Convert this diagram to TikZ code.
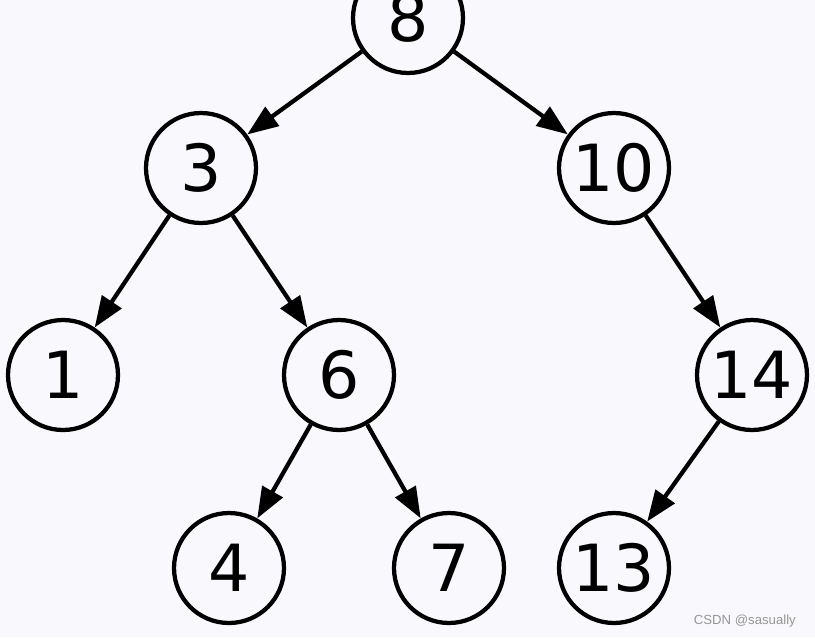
\documentclass[tikz,border=0pt]{standalone}
\usepackage{fontspec}
\setmainfont{DejaVu Sans}
\newfontfamily\markfont{Liberation Sans}
\usetikzlibrary{arrows.meta}
\definecolor{PaperBg}{RGB}{249,248,252}
\definecolor{MarkGray}{RGB}{150,150,150}
\tikzset{
  keynode/.style={circle,draw=black,line width=0.085cm,fill=none,
    minimum size=2.2cm,inner sep=0pt,font=\fontsize{37}{40}\selectfont},
  treeedge/.style={-{Triangle[length=0.62cm,width=0.46cm]},line width=0.085cm,draw=black}
}

\begin{document}
\begin{tikzpicture}[x=0.02cm,y=-0.02cm]
  \fill[PaperBg] (0,0) rectangle (815,637);
  \useasboundingbox (0,0) rectangle (815,637);
  % keys
  \node[keynode] (n8) at (408,18) {8};
  \node[keynode] (n3) at (201,168) {3};
  \node[keynode] (n10) at (614,168) {10};
  \node[keynode] (n1) at (63,375) {1};
  \node[keynode] (n6) at (339,375) {6};
  \node[keynode] (n14) at (752,375) {14};
  \node[keynode] (n4) at (229,568) {4};
  \node[keynode] (n7) at (449,568) {7};
  \node[keynode] (n13) at (614,568) {13};
  % links
  \draw[treeedge] (n8) -- (n3);
  \draw[treeedge] (n8) -- (n10);
  \draw[treeedge] (n3) -- (n1);
  \draw[treeedge] (n3) -- (n6);
  \draw[treeedge] (n10) -- (n14);
  \draw[treeedge] (n6) -- (n4);
  \draw[treeedge] (n6) -- (n7);
  \draw[treeedge] (n14) -- (n13);
  \node[font=\markfont\fontsize{7.5}{9}\selectfont,text=MarkGray,anchor=east] (mark) at (802,621) {CSDN @sasually};
\end{tikzpicture}
\end{document}
